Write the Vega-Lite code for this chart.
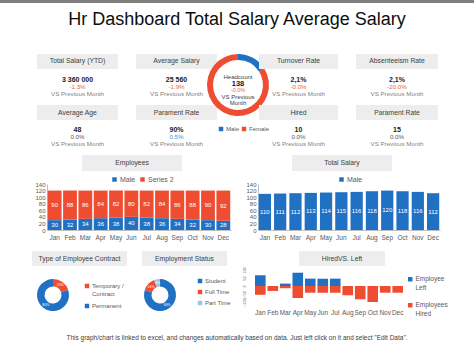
{
"$schema":"https://vega.github.io/schema/vega-lite/v6.json",
"background":"white",
"padding":0,
"spacing":0,
"bounds":"full",
"resolve":{"scale":{"color":"independent","theta":"independent"},"legend":{"color":"independent"}},
"config":{
 "font":"Liberation Sans",
 "view":{"stroke":null},
 "axis":{"labelFont":"Liberation Sans","labelColor":"#595959","grid":false},
 "legend":{"labelFont":"Liberation Sans","labelColor":"#595959","labelFontSize":6.5,"symbolType":"square","symbolSize":20,"symbolStrokeWidth":0,"padding":0,"labelOffset":2,"gridAlign":"none"}
},
"datasets":{
 "kpi":[
  {"card":1,"col":1,"row":"top","line":"title","text":"Total Salary (YTD)","tone":"note"},
  {"card":1,"col":1,"row":"top","line":"value","text":"3 360 000","tone":"value"},
  {"card":1,"col":1,"row":"top","line":"change","text":"-1.3%","tone":"down"},
  {"card":1,"col":1,"row":"top","line":"vs","text":"VS Previous Month","tone":"note"},
  {"card":2,"col":2,"row":"top","line":"title","text":"Average Salary","tone":"note"},
  {"card":2,"col":2,"row":"top","line":"value","text":"25 560","tone":"value"},
  {"card":2,"col":2,"row":"top","line":"change","text":"-1.9%","tone":"down"},
  {"card":2,"col":2,"row":"top","line":"vs","text":"VS Previous Month","tone":"note"},
  {"card":3,"col":3,"row":"top","line":"title","text":"Turnover Rate","tone":"note"},
  {"card":3,"col":3,"row":"top","line":"value","text":"2,1%","tone":"value"},
  {"card":3,"col":3,"row":"top","line":"change","text":"-0.0%","tone":"down"},
  {"card":3,"col":3,"row":"top","line":"vs","text":"VS Previous Month","tone":"note"},
  {"card":4,"col":4,"row":"top","line":"title","text":"Absenteeism Rate","tone":"note"},
  {"card":4,"col":4,"row":"top","line":"value","text":"2,1%","tone":"value"},
  {"card":4,"col":4,"row":"top","line":"change","text":"-20.0%","tone":"down"},
  {"card":4,"col":4,"row":"top","line":"vs","text":"VS Previous Month","tone":"note"},
  {"card":5,"col":1,"row":"bottom","line":"title","text":"Average Age","tone":"note"},
  {"card":5,"col":1,"row":"bottom","line":"value","text":"48","tone":"value"},
  {"card":5,"col":1,"row":"bottom","line":"change","text":"0.0%","tone":"flat"},
  {"card":5,"col":1,"row":"bottom","line":"vs","text":"VS Previous Month","tone":"note"},
  {"card":6,"col":2,"row":"bottom","line":"title","text":"Parament Rate","tone":"note"},
  {"card":6,"col":2,"row":"bottom","line":"value","text":"90%","tone":"value"},
  {"card":6,"col":2,"row":"bottom","line":"change","text":"0.5%","tone":"up"},
  {"card":6,"col":2,"row":"bottom","line":"vs","text":"VS Previous Month","tone":"note"},
  {"card":7,"col":3,"row":"bottom","line":"title","text":"Hired","tone":"note"},
  {"card":7,"col":3,"row":"bottom","line":"value","text":"10","tone":"value"},
  {"card":7,"col":3,"row":"bottom","line":"change","text":"0.0%","tone":"flat"},
  {"card":7,"col":3,"row":"bottom","line":"vs","text":"VS Previous Month","tone":"note"},
  {"card":8,"col":4,"row":"bottom","line":"title","text":"Parament Rate","tone":"note"},
  {"card":8,"col":4,"row":"bottom","line":"value","text":"15","tone":"value"},
  {"card":8,"col":4,"row":"bottom","line":"change","text":"0.0%","tone":"flat"},
  {"card":8,"col":4,"row":"bottom","line":"vs","text":"VS Previous Month","tone":"note"}
 ],
 "headcount":[{"gender":"Male","count":22},{"gender":"Female","count":116}],
 "headcountText":[{"line":"label","text":"Headcount"},{"line":"value","text":"138"},{"line":"change","text":"-0.0%"},{"line":"vs1","text":"VS Previous"},{"line":"vs2","text":"Month"}],
 "employees":[
  {"month":"Jan","series":"Male","value":30},{"month":"Feb","series":"Male","value":32},{"month":"Mar","series":"Male","value":34},{"month":"Apr","series":"Male","value":36},{"month":"May","series":"Male","value":38},{"month":"Jun","series":"Male","value":40},{"month":"Jul","series":"Male","value":38},{"month":"Aug","series":"Male","value":36},{"month":"Sep","series":"Male","value":34},{"month":"Oct","series":"Male","value":32},{"month":"Nov","series":"Male","value":30},{"month":"Dec","series":"Male","value":28},
  {"month":"Jan","series":"Series 2","value":90},{"month":"Feb","series":"Series 2","value":88},{"month":"Mar","series":"Series 2","value":86},{"month":"Apr","series":"Series 2","value":84},{"month":"May","series":"Series 2","value":82},{"month":"Jun","series":"Series 2","value":80},{"month":"Jul","series":"Series 2","value":82},{"month":"Aug","series":"Series 2","value":84},{"month":"Sep","series":"Series 2","value":86},{"month":"Oct","series":"Series 2","value":88},{"month":"Nov","series":"Series 2","value":90},{"month":"Dec","series":"Series 2","value":92}
 ],
 "salary":[
  {"month":"Jan","value":110},{"month":"Feb","value":111},{"month":"Mar","value":112},{"month":"Apr","value":113},{"month":"May","value":114},{"month":"Jun","value":115},{"month":"Jul","value":116},{"month":"Aug","value":118},{"month":"Sep","value":120},{"month":"Oct","value":118},{"month":"Nov","value":116},{"month":"Dec","value":112}
 ],
 "contract":[{"type":"Temporary / Contract","pct":20,"label":"20%"},{"type":"Permanent","pct":80,"label":"80%"}],
 "status":[{"status":"Student","pct":80,"label":"80%"},{"status":"Full Time","pct":14,"label":"14%"},{"status":"Part Time","pct":6,"label":"6%"}],
 "hired":[
  {"month":"Jan","series":"Employee Left","value":67},{"month":"Feb","series":"Employee Left","value":0},{"month":"Mar","series":"Employee Left","value":15},{"month":"Apr","series":"Employee Left","value":83},{"month":"May","series":"Employee Left","value":46},{"month":"Jun","series":"Employee Left","value":46},{"month":"Jul","series":"Employee Left","value":46},{"month":"Aug","series":"Employee Left","value":0},{"month":"Sep","series":"Employee Left","value":0},{"month":"Oct","series":"Employee Left","value":0},{"month":"Nov","series":"Employee Left","value":0},{"month":"Dec","series":"Employee Left","value":0},
  {"month":"Jan","series":"Employees Hired","value":-55},{"month":"Feb","series":"Employees Hired","value":-31},{"month":"Mar","series":"Employees Hired","value":-14},{"month":"Apr","series":"Employees Hired","value":-75},{"month":"May","series":"Employees Hired","value":-42},{"month":"Jun","series":"Employees Hired","value":-42},{"month":"Jul","series":"Employees Hired","value":-42},{"month":"Aug","series":"Employees Hired","value":-58},{"month":"Sep","series":"Employees Hired","value":-83},{"month":"Oct","series":"Employees Hired","value":-100},{"month":"Nov","series":"Employees Hired","value":-42},{"month":"Dec","series":"Employees Hired","value":-42}
 ]
},
"vconcat":[
 {"width":474,"height":3,"view":{"fill":"#7f7f7f"},"data":{"values":[{}]},"mark":{"type":"point","size":0,"opacity":0}},
 {"width":474,"height":51,"data":{"values":[{"t":"Hr Dashboard Total Salary Average Salary"}]},"mark":{"type":"text","fontSize":18,"color":"#0d0d0d","baseline":"alphabetic","dy":-3.5},"encoding":{"text":{"field":"t"}}},
 {"hconcat":[
  {"width":37,"height":101,"data":{"values":[{}]},"mark":{"type":"point","size":0,"opacity":0}},
  {"width":81,"height":101,"data":{"name":"kpi"},"transform":[{"filter":"datum.col == 1"}],"resolve":{"scale":{"y":"independent"}},
   "layer":[
    {"transform":[{"filter":"datum.line == 'title'"}],"mark":{"type":"rect","color":"#ededed"},"encoding":{"y":{"field":"row","type":"nominal","scale":{"type":"band","domain":["top","bottom"],"range":[0,66],"paddingInner":0.706,"paddingOuter":0},"axis":null}}},
    {"transform":[{"filter":"datum.line == 'title'"}],"mark":{"type":"text","fontSize":6.8,"color":"#404040"},"encoding":{"y":{"field":"row","type":"nominal","scale":{"type":"band","domain":["top","bottom"],"range":[0,66],"paddingInner":0.706,"paddingOuter":0},"axis":null},"text":{"field":"text"}}},
    {"transform":[{"filter":"datum.row == 'top' && datum.line == 'value'"}],"mark":{"type":"text","fontSize":7,"fontWeight":"bold","color":"#1a1a1a"},"encoding":{"y":{"field":"line","type":"nominal","scale":{"type":"point","domain":["value","change","vs"],"range":[26,40],"padding":0},"axis":null},"text":{"field":"text"}}},
    {"transform":[{"filter":"datum.row == 'top' && datum.line != 'value' && datum.line != 'title'"}],"mark":{"type":"text","fontSize":6.2},"encoding":{"y":{"field":"line","type":"nominal","scale":{"type":"point","domain":["value","change","vs"],"range":[26,40],"padding":0},"axis":null},"text":{"field":"text"},"color":{"field":"tone","type":"nominal","scale":{"domain":["down","up","flat","note"],"range":["#e8694a","#3d8fd1","#595959","#7f7f7f"]},"legend":null}}},
    {"transform":[{"filter":"datum.row == 'bottom' && datum.line == 'value'"}],"mark":{"type":"text","fontSize":7,"fontWeight":"bold","color":"#1a1a1a"},"encoding":{"y":{"field":"line","type":"nominal","scale":{"type":"point","domain":["value","change","vs"],"range":[76,90],"padding":0},"axis":null},"text":{"field":"text"}}},
    {"transform":[{"filter":"datum.row == 'bottom' && datum.line != 'value' && datum.line != 'title'"}],"mark":{"type":"text","fontSize":6.2},"encoding":{"y":{"field":"line","type":"nominal","scale":{"type":"point","domain":["value","change","vs"],"range":[76,90],"padding":0},"axis":null},"text":{"field":"text"},"color":{"field":"tone","type":"nominal","scale":{"domain":["down","up","flat","note"],"range":["#e8694a","#3d8fd1","#595959","#7f7f7f"]},"legend":null}}}
   ]},
  {"width":18,"height":101,"data":{"values":[{}]},"mark":{"type":"point","size":0,"opacity":0}},
  {"width":81,"height":101,"data":{"name":"kpi"},"transform":[{"filter":"datum.col == 2"}],"resolve":{"scale":{"y":"independent"}},
   "layer":[
    {"transform":[{"filter":"datum.line == 'title'"}],"mark":{"type":"rect","color":"#ededed"},"encoding":{"y":{"field":"row","type":"nominal","scale":{"type":"band","domain":["top","bottom"],"range":[0,66],"paddingInner":0.706,"paddingOuter":0},"axis":null}}},
    {"transform":[{"filter":"datum.line == 'title'"}],"mark":{"type":"text","fontSize":6.8,"color":"#404040"},"encoding":{"y":{"field":"row","type":"nominal","scale":{"type":"band","domain":["top","bottom"],"range":[0,66],"paddingInner":0.706,"paddingOuter":0},"axis":null},"text":{"field":"text"}}},
    {"transform":[{"filter":"datum.row == 'top' && datum.line == 'value'"}],"mark":{"type":"text","fontSize":7,"fontWeight":"bold","color":"#1a1a1a"},"encoding":{"y":{"field":"line","type":"nominal","scale":{"type":"point","domain":["value","change","vs"],"range":[26,40],"padding":0},"axis":null},"text":{"field":"text"}}},
    {"transform":[{"filter":"datum.row == 'top' && datum.line != 'value' && datum.line != 'title'"}],"mark":{"type":"text","fontSize":6.2},"encoding":{"y":{"field":"line","type":"nominal","scale":{"type":"point","domain":["value","change","vs"],"range":[26,40],"padding":0},"axis":null},"text":{"field":"text"},"color":{"field":"tone","type":"nominal","scale":{"domain":["down","up","flat","note"],"range":["#e8694a","#3d8fd1","#595959","#7f7f7f"]},"legend":null}}},
    {"transform":[{"filter":"datum.row == 'bottom' && datum.line == 'value'"}],"mark":{"type":"text","fontSize":7,"fontWeight":"bold","color":"#1a1a1a"},"encoding":{"y":{"field":"line","type":"nominal","scale":{"type":"point","domain":["value","change","vs"],"range":[76,90],"padding":0},"axis":null},"text":{"field":"text"}}},
    {"transform":[{"filter":"datum.row == 'bottom' && datum.line != 'value' && datum.line != 'title'"}],"mark":{"type":"text","fontSize":6.2},"encoding":{"y":{"field":"line","type":"nominal","scale":{"type":"point","domain":["value","change","vs"],"range":[76,90],"padding":0},"axis":null},"text":{"field":"text"},"color":{"field":"tone","type":"nominal","scale":{"domain":["down","up","flat","note"],"range":["#e8694a","#3d8fd1","#595959","#7f7f7f"]},"legend":null}}}
   ]},
  {"width":42,"height":62,"layer":[
   {"data":{"name":"headcount"},"mark":{"type":"arc","innerRadius":25,"outerRadius":31},"encoding":{"theta":{"field":"count","type":"quantitative","stack":true},"order":{"field":"count","type":"quantitative","sort":"ascending"},"color":{"field":"gender","type":"nominal","scale":{"domain":["Male","Female"],"range":["#2070c4","#ee4d32"]},"legend":{"title":null,"orient":"none","direction":"horizontal","legendX":1,"legendY":72,"labelFontSize":6,"columnPadding":1}}}},
   {"data":{"name":"headcountText"},"transform":[{"filter":"datum.line == 'value'"}],"mark":{"type":"text","fontSize":7.5,"fontWeight":"bold","color":"#1a1a1a"},"encoding":{"y":{"field":"line","type":"nominal","scale":{"type":"point","domain":["label","value","change","vs1","vs2"],"range":[23,49],"padding":0},"axis":null},"text":{"field":"text"}}},
   {"data":{"name":"headcountText"},"transform":[{"filter":"datum.line == 'change'"}],"mark":{"type":"text","fontSize":5.5,"color":"#e8694a"},"encoding":{"y":{"field":"line","type":"nominal","scale":{"type":"point","domain":["label","value","change","vs1","vs2"],"range":[23,49],"padding":0},"axis":null},"text":{"field":"text"}}},
   {"data":{"name":"headcountText"},"transform":[{"filter":"datum.line != 'value' && datum.line != 'change'"}],"mark":{"type":"text","fontSize":6,"color":"#404040"},"encoding":{"y":{"field":"line","type":"nominal","scale":{"type":"point","domain":["label","value","change","vs1","vs2"],"range":[23,49],"padding":0},"axis":null},"text":{"field":"text"}}}
  ]},
  {"width":79,"height":101,"data":{"name":"kpi"},"transform":[{"filter":"datum.col == 3"}],"resolve":{"scale":{"y":"independent"}},
   "layer":[
    {"transform":[{"filter":"datum.line == 'title'"}],"mark":{"type":"rect","color":"#ededed"},"encoding":{"y":{"field":"row","type":"nominal","scale":{"type":"band","domain":["top","bottom"],"range":[0,66],"paddingInner":0.706,"paddingOuter":0},"axis":null}}},
    {"transform":[{"filter":"datum.line == 'title'"}],"mark":{"type":"text","fontSize":6.8,"color":"#404040"},"encoding":{"y":{"field":"row","type":"nominal","scale":{"type":"band","domain":["top","bottom"],"range":[0,66],"paddingInner":0.706,"paddingOuter":0},"axis":null},"text":{"field":"text"}}},
    {"transform":[{"filter":"datum.row == 'top' && datum.line == 'value'"}],"mark":{"type":"text","fontSize":7,"fontWeight":"bold","color":"#1a1a1a"},"encoding":{"y":{"field":"line","type":"nominal","scale":{"type":"point","domain":["value","change","vs"],"range":[26,40],"padding":0},"axis":null},"text":{"field":"text"}}},
    {"transform":[{"filter":"datum.row == 'top' && datum.line != 'value' && datum.line != 'title'"}],"mark":{"type":"text","fontSize":6.2},"encoding":{"y":{"field":"line","type":"nominal","scale":{"type":"point","domain":["value","change","vs"],"range":[26,40],"padding":0},"axis":null},"text":{"field":"text"},"color":{"field":"tone","type":"nominal","scale":{"domain":["down","up","flat","note"],"range":["#e8694a","#3d8fd1","#595959","#7f7f7f"]},"legend":null}}},
    {"transform":[{"filter":"datum.row == 'bottom' && datum.line == 'value'"}],"mark":{"type":"text","fontSize":7,"fontWeight":"bold","color":"#1a1a1a"},"encoding":{"y":{"field":"line","type":"nominal","scale":{"type":"point","domain":["value","change","vs"],"range":[76,90],"padding":0},"axis":null},"text":{"field":"text"}}},
    {"transform":[{"filter":"datum.row == 'bottom' && datum.line != 'value' && datum.line != 'title'"}],"mark":{"type":"text","fontSize":6.2},"encoding":{"y":{"field":"line","type":"nominal","scale":{"type":"point","domain":["value","change","vs"],"range":[76,90],"padding":0},"axis":null},"text":{"field":"text"},"color":{"field":"tone","type":"nominal","scale":{"domain":["down","up","flat","note"],"range":["#e8694a","#3d8fd1","#595959","#7f7f7f"]},"legend":null}}}
   ]},
  {"width":18,"height":101,"data":{"values":[{}]},"mark":{"type":"point","size":0,"opacity":0}},
  {"width":82,"height":101,"data":{"name":"kpi"},"transform":[{"filter":"datum.col == 4"}],"resolve":{"scale":{"y":"independent"}},
   "layer":[
    {"transform":[{"filter":"datum.line == 'title'"}],"mark":{"type":"rect","color":"#ededed"},"encoding":{"y":{"field":"row","type":"nominal","scale":{"type":"band","domain":["top","bottom"],"range":[0,66],"paddingInner":0.706,"paddingOuter":0},"axis":null}}},
    {"transform":[{"filter":"datum.line == 'title'"}],"mark":{"type":"text","fontSize":6.8,"color":"#404040"},"encoding":{"y":{"field":"row","type":"nominal","scale":{"type":"band","domain":["top","bottom"],"range":[0,66],"paddingInner":0.706,"paddingOuter":0},"axis":null},"text":{"field":"text"}}},
    {"transform":[{"filter":"datum.row == 'top' && datum.line == 'value'"}],"mark":{"type":"text","fontSize":7,"fontWeight":"bold","color":"#1a1a1a"},"encoding":{"y":{"field":"line","type":"nominal","scale":{"type":"point","domain":["value","change","vs"],"range":[26,40],"padding":0},"axis":null},"text":{"field":"text"}}},
    {"transform":[{"filter":"datum.row == 'top' && datum.line != 'value' && datum.line != 'title'"}],"mark":{"type":"text","fontSize":6.2},"encoding":{"y":{"field":"line","type":"nominal","scale":{"type":"point","domain":["value","change","vs"],"range":[26,40],"padding":0},"axis":null},"text":{"field":"text"},"color":{"field":"tone","type":"nominal","scale":{"domain":["down","up","flat","note"],"range":["#e8694a","#3d8fd1","#595959","#7f7f7f"]},"legend":null}}},
    {"transform":[{"filter":"datum.row == 'bottom' && datum.line == 'value'"}],"mark":{"type":"text","fontSize":7,"fontWeight":"bold","color":"#1a1a1a"},"encoding":{"y":{"field":"line","type":"nominal","scale":{"type":"point","domain":["value","change","vs"],"range":[76,90],"padding":0},"axis":null},"text":{"field":"text"}}},
    {"transform":[{"filter":"datum.row == 'bottom' && datum.line != 'value' && datum.line != 'title'"}],"mark":{"type":"text","fontSize":6.2},"encoding":{"y":{"field":"line","type":"nominal","scale":{"type":"point","domain":["value","change","vs"],"range":[76,90],"padding":0},"axis":null},"text":{"field":"text"},"color":{"field":"tone","type":"nominal","scale":{"domain":["down","up","flat","note"],"range":["#e8694a","#3d8fd1","#595959","#7f7f7f"]},"legend":null}}}
   ]}
 ],"spacing":0,"bounds":"flush","resolve":{"scale":{"color":"independent","theta":"independent"},"legend":{"color":"independent"}}},
 {"hconcat":[
  {"width":82,"height":16,"data":{"values":[{}]},"mark":{"type":"point","size":0,"opacity":0}},
  {"width":100,"height":16,"view":{"fill":"#ededed"},"data":{"values":[{"t":"Employees"}]},"mark":{"type":"text","fontSize":6.8,"color":"#404040"},"encoding":{"text":{"field":"t"}}},
  {"width":110,"height":16,"data":{"values":[{}]},"mark":{"type":"point","size":0,"opacity":0}},
  {"width":100,"height":16,"view":{"fill":"#ededed"},"data":{"values":[{"t":"Total Salary"}]},"mark":{"type":"text","fontSize":6.8,"color":"#404040"},"encoding":{"text":{"field":"t"}}}
 ],"spacing":0,"bounds":"flush"},
 {"width":474,"height":5,"data":{"values":[{}]},"mark":{"type":"point","size":0,"opacity":0}},
 {"hconcat":[
  {"width":47,"height":46,"data":{"values":[{}]},"mark":{"type":"point","size":0,"opacity":0}},
  {"width":184,"height":46,"data":{"name":"employees"},
   "encoding":{"x":{"field":"month","type":"nominal","sort":["Jan","Feb","Mar","Apr","May","Jun","Jul","Aug","Sep","Oct","Nov","Dec"],"scale":{"paddingInner":0.1,"paddingOuter":0.05},"axis":{"title":null,"labelAngle":0,"labelFontSize":6.5,"domainColor":"#bfbfbf","ticks":false,"labelPadding":4}}},
   "layer":[
    {"mark":{"type":"bar"},"encoding":{"y":{"field":"value","type":"quantitative","stack":"zero","scale":{"domain":[0,140]},"axis":{"title":null,"values":[0,20,40,60,80,100,120,140],"labelFontSize":6,"domainColor":"#bfbfbf","ticks":false,"labelPadding":2}},"order":{"field":"series","type":"nominal","sort":"ascending"},"color":{"field":"series","type":"nominal","scale":{"domain":["Male","Series 2"],"range":["#2070c4","#ee4d32"]},"legend":{"title":null,"orient":"none","direction":"horizontal","legendX":64,"legendY":-8,"labelFontSize":7,"columnPadding":3}}}},
    {"transform":[{"filter":"datum.series == 'Male'"}],"mark":{"type":"text","color":"white","fontSize":6},"encoding":{"y":{"field":"value","type":"quantitative","scale":{"domain":[0,280]},"axis":null},"text":{"field":"value","type":"quantitative"}}},
    {"transform":[{"filter":"datum.series == 'Series 2'"}],"mark":{"type":"text","color":"white","fontSize":6},"encoding":{"y":{"field":"value","type":"quantitative","scale":{"domain":[-40,240],"reverse":true},"axis":null},"text":{"field":"value","type":"quantitative"}}}
   ],
   "resolve":{"scale":{"y":"independent"}}},
  {"width":27,"height":46,"data":{"values":[{}]},"mark":{"type":"point","size":0,"opacity":0}},
  {"width":182,"height":46,"data":{"name":"salary"},
   "encoding":{"x":{"field":"month","type":"nominal","sort":["Jan","Feb","Mar","Apr","May","Jun","Jul","Aug","Sep","Oct","Nov","Dec"],"scale":{"paddingInner":0.2,"paddingOuter":0.05},"axis":{"title":null,"labelAngle":0,"labelFontSize":6.5,"domainColor":"#bfbfbf","ticks":false,"labelPadding":4}}},
   "layer":[
    {"mark":{"type":"bar"},"encoding":{"y":{"field":"value","type":"quantitative","scale":{"domain":[0,140]},"axis":{"title":null,"values":[0,20,40,60,80,100,120,140],"labelFontSize":6,"domainColor":"#bfbfbf","ticks":false,"labelPadding":2}},"color":{"datum":"Male","type":"nominal","scale":{"domain":["Male"],"range":["#2070c4"]},"legend":{"title":null,"orient":"none","direction":"horizontal","legendX":80,"legendY":-8,"labelFontSize":7}}}},
    {"mark":{"type":"text","color":"white","fontSize":6},"encoding":{"y":{"field":"value","type":"quantitative","scale":{"domain":[0,280]},"axis":null},"text":{"field":"value","type":"quantitative"}}}
   ],
   "resolve":{"scale":{"y":"independent"}}}
 ],"spacing":0,"bounds":"flush","resolve":{"scale":{"color":"independent"},"legend":{"color":"independent"}}},
 {"width":474,"height":10,"data":{"values":[{}]},"mark":{"type":"point","size":0,"opacity":0}},
 {"hconcat":[
  {"width":32,"height":15,"data":{"values":[{}]},"mark":{"type":"point","size":0,"opacity":0}},
  {"width":95,"height":15,"view":{"fill":"#ededed"},"data":{"values":[{"t":"Type of Employee Contract"}]},"mark":{"type":"text","fontSize":6.8,"color":"#404040"},"encoding":{"text":{"field":"t"}}},
  {"width":15,"height":15,"data":{"values":[{}]},"mark":{"type":"point","size":0,"opacity":0}},
  {"width":85,"height":15,"view":{"fill":"#ededed"},"data":{"values":[{"t":"Employment Status"}]},"mark":{"type":"text","fontSize":6.8,"color":"#404040"},"encoding":{"text":{"field":"t"}}},
  {"width":72,"height":15,"data":{"values":[{}]},"mark":{"type":"point","size":0,"opacity":0}},
  {"width":86,"height":15,"view":{"fill":"#ededed"},"data":{"values":[{"t":"HiredVS. Left"}]},"mark":{"type":"text","fontSize":6.8,"color":"#404040"},"encoding":{"text":{"field":"t"}}}
 ],"spacing":0,"bounds":"flush"},
 {"hconcat":[
  {"width":37,"height":54,"data":{"values":[{}]},"mark":{"type":"point","size":0,"opacity":0}},
  {"width":32,"height":54,"data":{"name":"contract"},
   "encoding":{"theta":{"field":"pct","type":"quantitative","stack":true},"order":{"field":"pct","type":"quantitative","sort":"ascending"}},
   "layer":[
    {"mark":{"type":"arc","innerRadius":8.5,"outerRadius":16},"encoding":{"color":{"field":"type","type":"nominal","scale":{"domain":["Temporary / Contract","Permanent"],"range":["#ee4d32","#2070c4"]},"legend":{"title":null,"orient":"none","legendX":47,"legendY":15,"rowPadding":6,"labelFontSize":6,"labelExpr":"datum.label == 'Temporary / Contract' ? ['Temporary /', 'Contract'] : datum.label"}}}},
    {"mark":{"type":"text","radius":12.3,"fontSize":3.5,"color":"white"},"encoding":{"text":{"field":"label"}}}
   ]},
  {"width":75,"height":54,"data":{"values":[{}]},"mark":{"type":"point","size":0,"opacity":0}},
  {"width":32,"height":54,"data":{"name":"status"},
   "encoding":{"theta":{"field":"pct","type":"quantitative","stack":true},"order":{"field":"pct","type":"quantitative","sort":"descending"}},
   "layer":[
    {"mark":{"type":"arc","innerRadius":8.5,"outerRadius":16},"encoding":{"color":{"field":"status","type":"nominal","scale":{"domain":["Student","Full Time","Part Time"],"range":["#2070c4","#ee4d32","#9dc3e6"]},"legend":{"title":null,"orient":"none","legendX":53,"legendY":10,"rowPadding":5,"labelFontSize":6}}}},
    {"mark":{"type":"text","radius":12.3,"fontSize":3.5,"color":"white"},"encoding":{"text":{"field":"label"}}}
   ]},
  {"width":78,"height":54,"data":{"values":[{}]},"mark":{"type":"point","size":0,"opacity":0}},
  {"width":150,"height":38,"data":{"name":"hired"},"mark":{"type":"bar"},
   "encoding":{
    "x":{"field":"month","type":"nominal","sort":["Jan","Feb","Mar","Apr","May","Jun","Jul","Aug","Sep","Oct","Nov","Dec"],"scale":{"paddingInner":0.15,"paddingOuter":0.08},"axis":{"title":null,"labelAngle":0,"labelFontSize":6.5,"domain":false,"ticks":false,"labelPadding":3}},
    "y":{"field":"value","type":"quantitative","stack":"zero","scale":{"domain":[-125,112.5]},"axis":{"title":null,"values":[-100,-50,0,50,100],"labelAngle":-90,"labelFontSize":4,"labelFlush":true,"domain":false,"ticks":false,"labelPadding":8}},
    "color":{"field":"series","type":"nominal","scale":{"domain":["Employee Left","Employees Hired"],"range":["#2070c4","#ee4d32"]},"legend":{"title":null,"orient":"none","legendX":153,"legendY":8,"rowPadding":10,"labelFontSize":6.5,"labelExpr":"split(datum.label, ' ')"}}
   }}
 ],"spacing":0,"bounds":"flush","resolve":{"scale":{"color":"independent","theta":"independent"},"legend":{"color":"independent"}}},
 {"width":474,"height":32,"data":{"values":[{"t":"This graph/chart is linked to excel, and changes automatically based on data. Just left click on it and select \"Edit Data\"."}]},"mark":{"type":"text","fontSize":6.5,"color":"#404040"},"encoding":{"text":{"field":"t"}}}
]
}
